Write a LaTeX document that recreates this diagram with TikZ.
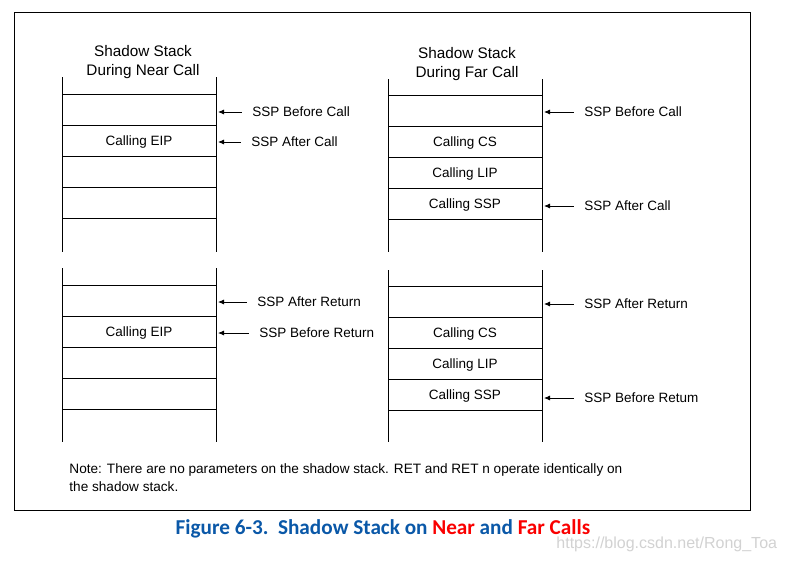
\documentclass[tikz,border=0pt]{standalone}
\usepackage{fontspec}
\setmainfont{Liberation Sans}
\newfontfamily\capfont{Carlito}
\usetikzlibrary{arrows.meta,positioning}
\definecolor{capblue}{RGB}{10,88,168}
\definecolor{capred}{RGB}{250,0,0}

\begin{document}
\begin{tikzpicture}[
  x=1pt, y=-1pt, line width=0.9pt,
  cell/.style={rectangle, draw, minimum width=154pt, minimum height=31pt,
               inner sep=0pt, outer sep=0pt, text depth=0pt,
               font=\fontsize{13.5}{16}\selectfont},
  head/.style={align=center, font=\fontsize{15.3}{19}\selectfont},
  lab/.style={anchor=west, inner sep=0pt, font=\fontsize{13.5}{16}\selectfont},
  arr/.style={{Latex[length=6pt,width=5pt]}-, line width=0.8pt,
              shorten <=2pt, shorten >=10pt},
  note/.style={anchor=north west, align=left, inner sep=0pt,
               font=\fontsize{13.6}{18}\selectfont}
]
\fill[white] (0,0) rectangle (787,562);
\useasboundingbox (0,0) rectangle (787,562);

% outer frame
\draw (14,12) rectangle (750,510);

% near call, before and after the call
\node[head] (hnear) at (143,62) {Shadow Stack\\During Near Call};
\node[cell] (na1) at (139,109.5) {};
\node[cell, below=0pt of na1] (na2) {Calling EIP};
\node[cell, below=0pt of na2] (na3) {};
\node[cell, below=0pt of na3] (na4) {};
\draw (na1.north west) -- ++(0,-17);
\draw (na1.north east) -- ++(0,-17);
\draw (na4.south west) -- ++(0,34);
\draw (na4.south east) -- ++(0,34);

\node[lab] (na1l) at (252,112) {SSP Before Call};
\node[lab] (na2l) at (251,142) {SSP After Call};
\draw[arr] (na1l.west -| na1.east) -- (na1l.west);
\draw[arr] (na2l.west -| na2.east) -- (na2l.west);

% far call, before and after the call
\node[head] (hfar) at (467,64) {Shadow Stack\\During Far Call};
\node[cell] (fa1) at (465,110.5) {};
\node[cell, below=0pt of fa1] (fa2) {Calling CS};
\node[cell, below=0pt of fa2] (fa3) {Calling LIP};
\node[cell, below=0pt of fa3] (fa4) {Calling SSP};
\draw (fa1.north west) -- ++(0,-16);
\draw (fa1.north east) -- ++(0,-16);
\draw (fa4.south west) -- ++(0,33);
\draw (fa4.south east) -- ++(0,33);

\node[lab] (fa1l) at (584,112) {SSP Before Call};
\node[lab] (fa4l) at (584,206) {SSP After Call};
\draw[arr] (fa1l.west -| fa1.east) -- (fa1l.west);
\draw[arr] (fa4l.west -| fa4.east) -- (fa4l.west);

% near call, return
\node[cell] (nb1) at (139,300.5) {};
\node[cell, below=0pt of nb1] (nb2) {Calling EIP};
\node[cell, below=0pt of nb2] (nb3) {};
\node[cell, below=0pt of nb3] (nb4) {};
\draw (nb1.north west) -- ++(0,-17);
\draw (nb1.north east) -- ++(0,-17);
\draw (nb4.south west) -- ++(0,33);
\draw (nb4.south east) -- ++(0,33);

\node[lab] (nb1l) at (257,302) {SSP After Return};
\node[lab] (nb2l) at (259,333) {SSP Before Return};
\draw[arr] (nb1l.west -| nb1.east) -- (nb1l.west);
\draw[arr] (nb2l.west -| nb2.east) -- (nb2l.west);

% far call, return
\node[cell] (fb1) at (465,301.5) {};
\node[cell, below=0pt of fb1] (fb2) {Calling CS};
\node[cell, below=0pt of fb2] (fb3) {Calling LIP};
\node[cell, below=0pt of fb3] (fb4) {Calling SSP};
\draw (fb1.north west) -- ++(0,-16);
\draw (fb1.north east) -- ++(0,-16);
\draw (fb4.south west) -- ++(0,32);
\draw (fb4.south east) -- ++(0,32);

\node[lab] (fb1l) at (584,304) {SSP After Return};
\node[lab] (fb4l) at (584,398) {SSP Before Retum};
\draw[arr] (fb1l.west -| fb1.east) -- (fb1l.west);
\draw[arr] (fb4l.west -| fb4.east) -- (fb4l.west);

% note and caption
\node[note] (nt) at (69,463) {Note: There are no parameters on the shadow stack. RET and RET n operate identically on\\the shadow stack.};
\node[font=\capfont\bfseries\fontsize{21.2}{24}\selectfont, text=capblue] (cap) at (383,529)
  {Figure 6-3.\ \ Shadow Stack on \textcolor{capred}{Near} and \textcolor{capred}{Far Calls}};
\node[anchor=west, inner sep=0pt, text=gray!35, font=\fontsize{16}{18}\selectfont] (wm) at (556,544)
  {https://blog.csdn.net/Rong\_Toa};
\end{tikzpicture}
\end{document}
